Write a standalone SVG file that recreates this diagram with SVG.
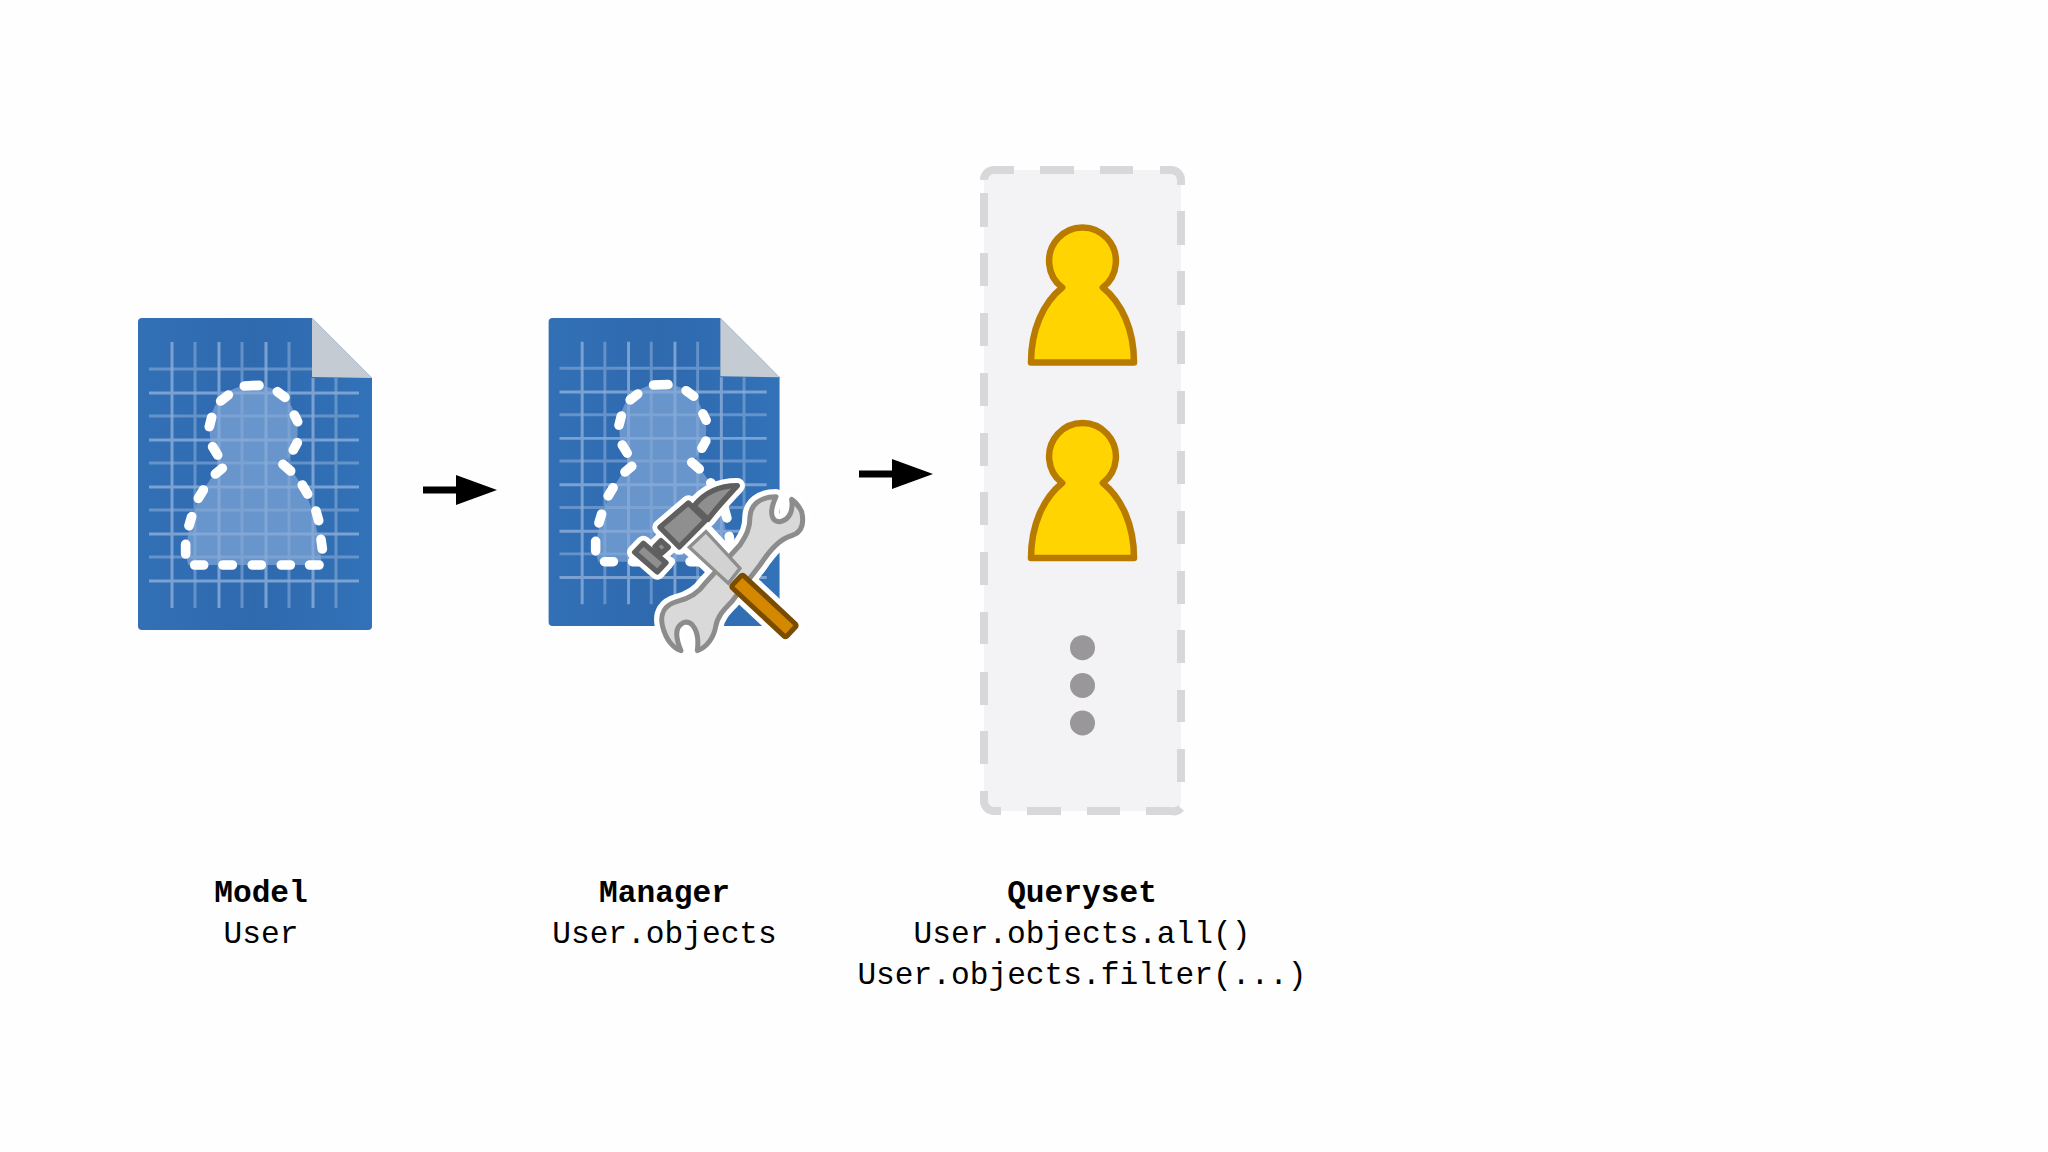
<svg xmlns="http://www.w3.org/2000/svg" width="2048" height="1152" viewBox="0 0 2048 1152">
<style>
.label{font-family:"Liberation Mono","DejaVu Sans Mono",monospace;font-size:31.200px;fill:#000;text-anchor:middle}
.b{font-weight:bold}
.grid{stroke:#87ABD8;stroke-width:3;opacity:.85}
.grid2{stroke:#87ABD8;stroke-width:3;opacity:.6}
.halo{fill:#fff;stroke:#fff;stroke-width:46;stroke-linejoin:round}
.metal{stroke-linejoin:round;stroke-width:16;stroke:#5F5F5F;fill:#8F8F8F}
.pawn{fill:#FFD400;stroke:#B97A00;stroke-width:6.500;stroke-linejoin:round}
.dot{fill:#999799}
.line{stroke:#000;stroke-width:7;fill:none;marker-end:url(#head)}
</style>
<defs>
<linearGradient id="paper" x1="0" y1="0" x2="1" y2="0">
<stop offset="0" stop-color="#3270B6"/><stop offset=".5" stop-color="#2F69AE"/><stop offset="1" stop-color="#3272B8"/>
</linearGradient>
<marker id="head" markerUnits="userSpaceOnUse" markerWidth="41" markerHeight="30" refX="0" refY="15" orient="auto">
<path d="M0 0L41 15L0 30Z" fill="#000"/>
</marker>
<g id="blueprint">
<path d="M142 318H312L372 378V626a4 4 0 0 1-4 4H142a4 4 0 0 1-4-4V322a4 4 0 0 1 4-4Z" fill="url(#paper)"/>
<path d="M312 318L372 378L312 377Z" fill="#C5CBD2"/>
<path transform="translate(120 300) scale(.3333)" d="M205 795C190 750 205 690 225 630C240 585 270 530 305 495C270 450 262 400 275 345C290 285 340 255 400 255C470 255 520 300 530 365C540 410 525 460 490 490C540 530 590 610 605 795Z" fill="#6895CB"/>
<g class="grid">
<path d="M172 342V608M219 342V608M266 342V608M313 378V608M149 393H359M149 440H359M149 487H359M149 534H359M149 581H359"/>
</g>
<g class="grid2">
<path d="M195 342V608M242 342V608M289 342V608M336 378V608M149 369H312M149 416H359M149 463H359M149 510H359M149 557H359"/>
</g>
<path transform="translate(120 300) scale(.3333)" fill="none" stroke="#fff" stroke-width="29" stroke-linecap="round" d="M224 795H251M309 795H337M397 795H424M484 795H511M569 795H597M603 718L607 747M588 633L596 662M547 555L563 582M489 493L512 513M532 428L520 450M523 345L533 365M472 275L495 292M373 258L417 256M325 285L302 303M275 352L268 380M278 440L293 465M307 505L286 522M250 570L235 595M215 650L207 677M197 733L197 762"/>
</g>
<path id="wrench" d="M468 80C420 80 392 105 390 140C390 175 380 195 360 225L255 340C235 370 210 385 170 395C135 405 118 430 128 470C138 510 160 535 183 542C165 500 165 470 190 458C215 450 240 480 232 542C262 532 282 500 287 470C292 440 310 420 335 395L420 285C450 240 480 205 520 195C545 185 553 160 545 125C535 105 525 95 515 88C520 120 510 150 480 155C455 155 445 130 468 80Z"/>
<path id="peen" d="M222 108C255 66 300 47 352 47C327 75 297 105 264 148Z"/>
<path id="block" d="M205 99L258 150L178 231L120 172Z"/>
<path id="neck" d="M123 212L145 232L125 250L105 230Z"/>
<path id="cap" d="M70 220L138 278L112 306L44 247Z"/>
<path id="shaft" d="M258 185L360 295L325 340L208 232Z"/>
<rect id="grip" x="-112" y="-25" width="224" height="50" rx="6" transform="translate(432 408) rotate(43)"/>
<path id="pawn" d="M1031 362.500C1031 330 1043 303 1062.200 287.500A33.400 33.400 0 1 1 1102.800 287.500C1122 303 1134 330 1134 362.500Z"/>
</defs>
<rect width="2048" height="1152" fill="#FEFEFE"/>

<g id="model">
<use href="#blueprint"/>
<text class="label b" x="261" y="902">Model</text>
<text class="label" x="261" y="943">User</text>
</g>

<g id="manager">
<use href="#blueprint" transform="translate(412.400 4.100) scale(.987)"/>
<g transform="translate(620 470) scale(.3333)">
<g class="halo">
<use href="#wrench"/><use href="#peen"/><use href="#block"/><use href="#neck"/><use href="#cap"/><use href="#shaft"/><use href="#grip"/>
</g>
<use href="#wrench" fill="#D9D9D9" stroke="#8C8C8C" stroke-width="15" stroke-linejoin="round"/>
<use href="#shaft" fill="#D2D2D2" stroke="#8E8E8E" stroke-width="10"/>
<use href="#peen" class="metal"/>
<use href="#neck" class="metal"/>
<use href="#cap" class="metal"/>
<use href="#block" class="metal"/>
<use href="#grip" fill="#D48800" stroke="#7A4C00" stroke-width="15" stroke-linejoin="round"/>
</g>
<text class="label b" x="664.500" y="902">Manager</text>
<text class="label" x="664.500" y="943">User.objects</text>
</g>

<g id="queryset">
<rect x="984" y="170" width="197" height="641" rx="10" fill="#F3F2F4"/>
<path fill="none" stroke="#D8D8DA" stroke-width="8" d="M984 177V180A10 10 0 0 1 994 170H1014M1040 170H1074M1100 170H1133M1160 170H1171A10 10 0 0 1 1181 180V185M1181 211V245M1181 271V305M1181 331V364M1181 391V424M1181 451V484M1181 511V544M1181 571V604M1181 630V663M1181 690V722M1181 749V782M1146 811H1171A10 10 0 0 0 1181 808M1087 811H1120M1027 811H1061M1001 811H994A10 10 0 0 1 984 801V791M984 731V764M984 672V705M984 612V644M984 552V585M984 492V525M984 433V466M984 373V406M984 313V346M984 253V286M984 193V227"/>
<g class="pawn">
<use href="#pawn"/>
<use href="#pawn" y="195.500"/>
</g>
<circle class="dot" cx="1082.500" cy="647.700" r="12.500"/>
<circle class="dot" cx="1082.500" cy="685.500" r="12.500"/>
<circle class="dot" cx="1082.500" cy="723" r="12.500"/>
<text class="label b" x="1082" y="902">Queryset</text>
<text class="label" x="1082" y="943">User.objects.all()</text>
<text class="label" x="1082" y="984">User.objects.filter(...)</text>
</g>

<g id="connectors">
<path class="line" d="M423 490H456"/>
<path class="line" d="M859 474H892"/>
</g>
</svg>
